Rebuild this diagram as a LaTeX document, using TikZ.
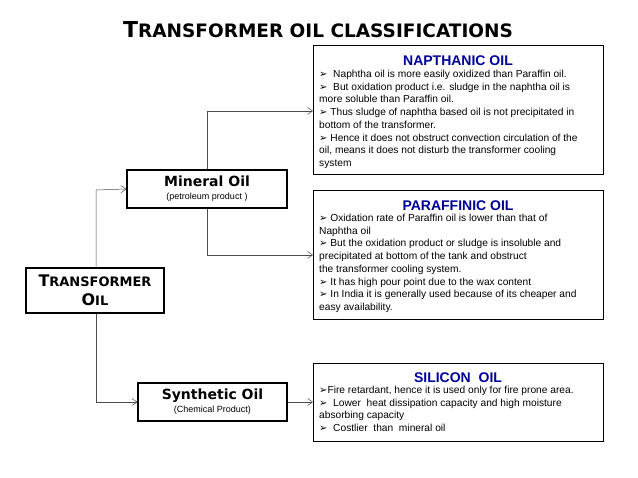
\documentclass[tikz,border=0pt]{standalone}
\usepackage{fontspec}
\setmainfont{Liberation Sans}
\newfontfamily\dvs{DejaVu Sans}
\usetikzlibrary{arrows.meta}
\newcommand{\ar}{{\dvs\fontsize{10}{9}\selectfont ➢}}
\begin{document}
\begin{tikzpicture}[x=1pt,y=-1pt,
  box/.style={draw,line width=1.2pt,inner sep=0pt},
  conn/.style={draw=black!70,line width=0.5pt,-{Straight Barb[length=5pt,width=7pt]}},
  body/.style={anchor=north west,align=left,inner sep=0pt,font=\fontsize{10.2}{12.7}\selectfont},
  head/.style={text=blue!60!black,font=\bfseries\fontsize{14}{15}\selectfont}]
\useasboundingbox (0,0) rectangle (638,478);
\node at (318,30) {\dvs\bfseries\fontsize{22}{24}\selectfont T\fontsize{18.5}{24}\selectfont RANSFORMER OIL CLASSIFICATIONS};
% boxes
\node[box,minimum width=138,minimum height=45,align=center,font=\dvs\bfseries\fontsize{16}{19}\selectfont] (to) at (95,290.5)
 {T{\fontsize{13}{19}\selectfont RANSFORMER}\\O{\fontsize{13}{19}\selectfont IL}};
\node[box,minimum width=160,minimum height=38,align=center,font=\fontsize{9}{13}\selectfont] (min) at (207,189)
 {{\dvs\bfseries\fontsize{14}{15}\selectfont Mineral Oil}\\(petroleum product )};
\node[box,minimum width=149,minimum height=38,align=center,font=\fontsize{9}{13}\selectfont] (syn) at (212.5,402)
 {{\dvs\bfseries\fontsize{14}{15}\selectfont Synthetic Oil}\\(Chemical Product)};
\node[box,minimum width=290,minimum height=129,anchor=north west] (nap) at (313,45) {};
\node[box,minimum width=290,minimum height=129,anchor=north west] (par) at (313,190) {};
\node[box,minimum width=290,minimum height=78,anchor=north west] (sil) at (313,363) {};
% contents
\node[head] at (458,61) {NAPTHANIC OIL};
\node[body] at (319,70) {\ar\ \ Naphtha oil is more easily oxidized than Paraffin oil.\\
\ar\ \ But oxidation product i.e. sludge in the naphtha oil is\\
more soluble than Paraffin oil.\\
\ar\ Thus sludge of naphtha based oil is not precipitated in\\
bottom of the transformer.\\
\ar\ Hence it does not obstruct convection circulation of the\\
oil, means it does not disturb the transformer cooling\\
system};
\node[head] at (458,206) {PARAFFINIC OIL};
\node[body] at (319,214) {\ar\ Oxidation rate of Paraffin oil is lower than that of\\
Naphtha oil\\
\ar\ But the oxidation product or sludge is insoluble and\\
precipitated at bottom of the tank and obstruct\\
the transformer cooling system.\\
\ar\ It has high pour point due to the wax content\\
\ar\ In India it is generally used because of its cheaper and\\
easy availability.};
\node[head] at (458,378) {SILICON\ \ OIL};
\node[body] at (319,386) {\ar Fire retardant, hence it is used only for fire prone area.\\
\ar\ \ Lower\ \ heat dissipation capacity and high moisture\\
absorbing capacity\\
\ar\ \ Costlier\ \ than\ \ mineral oil};
% connectors
\coordinate (a1) at (96,190);
\draw[conn] (to.north -| a1) -- (a1) -- (min.west);
\draw[conn] (min.north) |- (nap.west |- 0,111);
\draw[conn] (min.south) |- (par.west |- 0,255);
\draw[conn] (to.south -| a1) |- (syn.west);
\draw[conn] (syn.east) -- (sil.west |- syn.east);
\end{tikzpicture}
\end{document}
